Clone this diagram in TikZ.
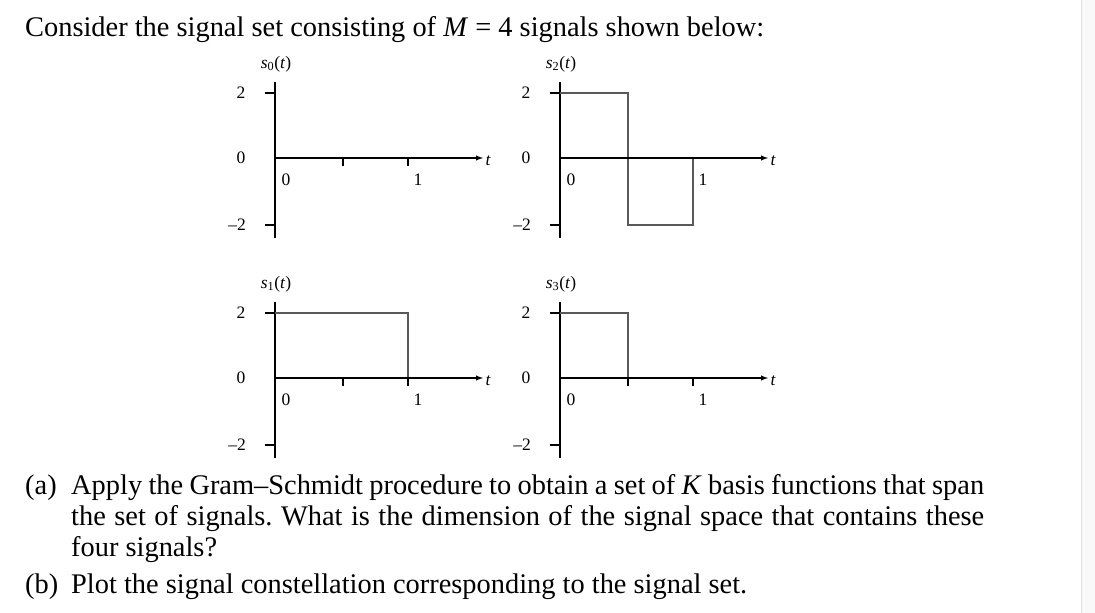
\documentclass[tikz,border=0pt]{standalone}
\usepackage{fontspec}
\setmainfont{Liberation Serif}
\frenchspacing
\begin{document}
\begin{tikzpicture}[x=1pt,y=-1pt,
  ax/.style={line width=1.4pt,black},
  sig/.style={line width=2.8pt,gray!70!black},
  lab/.style={font=\fontsize{17.5}{17.5}\selectfont},
  big/.style={font=\fontsize{28.4}{31}\selectfont,inner sep=0pt,anchor=west}]
\useasboundingbox (0,0) rectangle (1095,613);
\fill[gray!5] (1081,0) rectangle (1095,613);
\draw[gray!25,line width=1pt] (1081,0) -- (1081,613);
\node[big] (hd) at (25,30) {Consider the signal set consisting of \textit{M} = 4 signals shown below:};
\foreach \ox/\oy/\k in {275/0/0, 560/0/2, 275/220/1, 560/220/3}{
  \begin{scope}[shift={(\ox,\oy)}]
    \coordinate (yt) at (0,82); \coordinate (yb) at (0,238);
    \coordinate (xo) at (0,158); \coordinate (xe) at (208,158);
    \draw[ax] (yt) -- (yb);
    \draw[ax] (-10,93) -- (0,93); \draw[ax] (-10,225) -- (0,225);
    \draw[ax] (68,158) -- (68,166); \draw[ax] (133,158) -- (133,166);
    \ifcase\k
      \draw[sig] (0,158) -- (133,158);
    \or
      \draw[sig] (0,93) -- (133,93) -- (133,158);
    \or
      \draw[sig] (0,93) -- (68,93) -- (68,225) -- (133,225) -- (133,158);
    \or
      \draw[sig] (0,93) -- (68,93) -- (68,158);
    \fi
    \draw[ax,-latex] (xo) -- (xe);
    \node[lab] (l2) at (-34,93) {2};
    \node[lab] (l0) at (-34,158) {0};
    \node[lab] (lm) at (-38,225) {\textendash2};
    \node[lab] (z) at (11,180) {0};
    \node[lab] (o) at (143,180) {1};
    \node[lab,font=\fontsize{17.5}{17.5}\selectfont\itshape] (t) at (213,161) {t};
  \end{scope}
}
\node[lab] (n0) at (276,64) {\textit{s}\textsubscript{0}(\textit{t})};
\node[lab] (n2) at (561,64) {\textit{s}\textsubscript{2}(\textit{t})};
\node[lab] (n1) at (276,284) {\textit{s}\textsubscript{1}(\textit{t})};
\node[lab] (n3) at (561,284) {\textit{s}\textsubscript{3}(\textit{t})};
\node[big] (a) at (25,488) {(a)};
\node[big] (a1) at (71,488) {\makebox[913pt][s]{Apply the Gram--Schmidt procedure to obtain a set of \textit{K} basis functions that span}};
\node[big] (a2) at (71,519) {\makebox[913pt][s]{the set of signals. What is the dimension of the signal space that contains these}};
\node[big] (a3) at (71,550) {four signals?};
\node[big] (b) at (25,587) {(b)};
\node[big] (b1) at (71,587) {Plot the signal constellation corresponding to the signal set.};
\end{tikzpicture}
\end{document}
